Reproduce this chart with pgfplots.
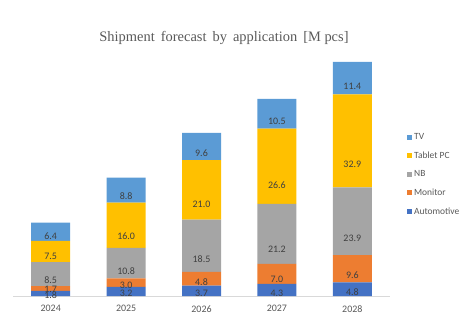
\documentclass[border=0pt]{standalone}
\usepackage{pgfplots}
\pgfplotsset{compat=1.18}
\usepackage{pgfplotstable}
\usepackage{fontspec}
\setmainfont{Carlito}
\newfontfamily\titlefont{Liberation Serif}
\definecolor{cTV}{HTML}{5B9BD5}
\definecolor{cTab}{HTML}{FFC000}
\definecolor{cNB}{HTML}{A5A5A5}
\definecolor{cMon}{HTML}{ED7D31}
\definecolor{cAuto}{HTML}{4472C4}
\definecolor{txt}{HTML}{595959}
\definecolor{lbl}{HTML}{404040}
\pgfplotsset{
  calc half/.code={%
    \pgfkeys{/pgf/fpu=true,/pgf/fpu/output format=fixed}%
    \pgfmathsetmacro\halfoff{\pgfplotspointmeta*0.7110}%
    \pgfkeys{/pgf/fpu=false}%
  },
}
\pgfplotstableread{
x auto mon nb tab tv
0 1.8 1.7 8.5 7.5 6.4
1 3.2 3.0 10.8 16.0 8.8
2 3.7 4.8 18.5 21.0 9.6
3 4.3 7.0 21.2 26.6 10.5
4 4.8 9.6 23.9 32.9 11.4
}\datatable
\begin{document}
\begin{tikzpicture}[x=1bp,y=1bp]
\useasboundingbox (0,0) rectangle (474,323);
\begin{axis}[
  at={(13bp,27bp)}, anchor=south west,
  scale only axis, width=377bp, height=238bp,
  ybar stacked, bar width=39bp,
  xmin=-0.5, xmax=4.5, ymin=0, ymax=84,
  axis x line*=bottom, axis y line=none,
  x axis line style={draw=black!15, line width=0.8pt, -},
  xtick=data, xticklabels={2024,2025,2026,2027,2028},
  major tick length=0pt,
  xticklabel style={font=\fontsize{10}{12}\selectfont, text=txt, yshift=-6bp},
  ytick=\empty,
  nodes near coords={\pgfmathprintnumber[fixed,fixed zerofill,precision=1,assume math mode=true]{\pgfplotspointmeta}},
  point meta=rawy,
  every node near coord/.append style={/pgfplots/calc half, anchor=center, font=\fontsize{10}{12}\selectfont, text=lbl, yshift=-\halfoff},
  legend style={at={(rel axis cs:1.037,0.70)}, anchor=north west, draw=none, fill=none, font=\fontsize{9.5}{11}\selectfont, text=txt, row sep=6.75bp},
  legend cell align=left,
  reverse legend,
  legend image code/.code={\fill[#1] (0bp,-2.5bp) rectangle (5bp,2.5bp);},
  clip=false,
]
\addplot[fill=cAuto, draw=none] table[x=x,y=auto]{\datatable};
\addlegendentry{Automotive}
\addplot[fill=cMon, draw=none] table[x=x,y=mon]{\datatable};
\addlegendentry{Monitor}
\addplot[fill=cNB, draw=none] table[x=x,y=nb]{\datatable};
\addlegendentry{NB}
\addplot[fill=cTab, draw=none] table[x=x,y=tab]{\datatable};
\addlegendentry{Tablet PC}
\addplot[fill=cTV, draw=none] table[x=x,y=tv]{\datatable};
\addlegendentry{TV}
\end{axis}
\node[font=\titlefont\fontsize{14.5}{17}\selectfont, text=txt] at (224,285) {Shipment\, forecast\, by\, application\, [M pcs]};
\end{tikzpicture}
\end{document}
